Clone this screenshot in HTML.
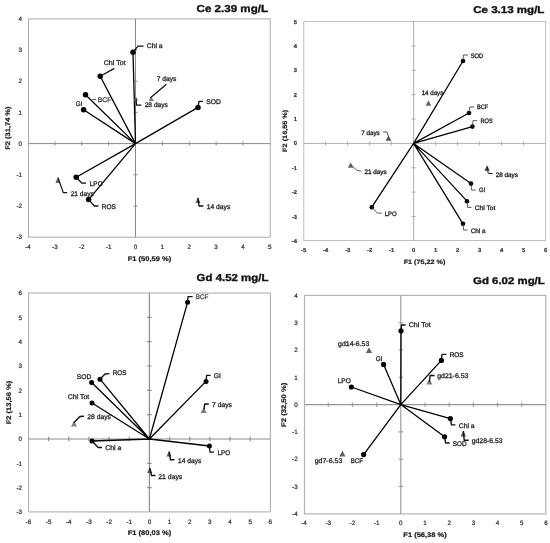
<!DOCTYPE html>
<html lang="en"><head><meta charset="utf-8"><title>PCA biplots</title>
<style>html,body{margin:0;padding:0;background:#fff}svg{display:block;font-family:"Liberation Sans",Arial,Helvetica,sans-serif;text-rendering:geometricPrecision}</style>
</head><body>
<svg width="550" height="543" viewBox="0 0 550 543">
<rect width="550" height="543" fill="#fff"/>
<g>
<rect x="28.6" y="18.9" width="241.6" height="218.3" fill="#fff" stroke="#a0a0a0" stroke-width="0.9"/>
<path d="M28.6 143.6H270.2M135.5 18.9V237.2M54.89 141.6V145.6M81.76 141.6V145.6M108.63 141.6V145.6M162.37 141.6V145.6M189.24 141.6V145.6M216.11 141.6V145.6M242.98 141.6V145.6M133.5 206H137.5M133.5 174.8H137.5M133.5 112.4H137.5M133.5 81.2H137.5M133.5 50H137.5" stroke="#858585" stroke-width="0.95" fill="none"/>
<text x="28.02" y="248.86" font-size="6.3" text-anchor="middle" fill="#2c2c2c" stroke="#2c2c2c" stroke-width="0.2">-4</text>
<text x="54.89" y="248.86" font-size="6.3" text-anchor="middle" fill="#2c2c2c" stroke="#2c2c2c" stroke-width="0.2">-3</text>
<text x="81.76" y="248.86" font-size="6.3" text-anchor="middle" fill="#2c2c2c" stroke="#2c2c2c" stroke-width="0.2">-2</text>
<text x="108.63" y="248.86" font-size="6.3" text-anchor="middle" fill="#2c2c2c" stroke="#2c2c2c" stroke-width="0.2">-1</text>
<text x="135.5" y="248.86" font-size="6.3" text-anchor="middle" fill="#2c2c2c" stroke="#2c2c2c" stroke-width="0.2">0</text>
<text x="162.37" y="248.86" font-size="6.3" text-anchor="middle" fill="#2c2c2c" stroke="#2c2c2c" stroke-width="0.2">1</text>
<text x="189.24" y="248.86" font-size="6.3" text-anchor="middle" fill="#2c2c2c" stroke="#2c2c2c" stroke-width="0.2">2</text>
<text x="216.11" y="248.86" font-size="6.3" text-anchor="middle" fill="#2c2c2c" stroke="#2c2c2c" stroke-width="0.2">3</text>
<text x="242.98" y="248.86" font-size="6.3" text-anchor="middle" fill="#2c2c2c" stroke="#2c2c2c" stroke-width="0.2">4</text>
<text x="269.85" y="248.86" font-size="6.3" text-anchor="middle" fill="#2c2c2c" stroke="#2c2c2c" stroke-width="0.2">5</text>
<text x="22" y="239.46" font-size="6.3" text-anchor="end" fill="#2c2c2c" stroke="#2c2c2c" stroke-width="0.2">-3</text>
<text x="22" y="208.26" font-size="6.3" text-anchor="end" fill="#2c2c2c" stroke="#2c2c2c" stroke-width="0.2">-2</text>
<text x="22" y="177.06" font-size="6.3" text-anchor="end" fill="#2c2c2c" stroke="#2c2c2c" stroke-width="0.2">-1</text>
<text x="22" y="145.86" font-size="6.3" text-anchor="end" fill="#2c2c2c" stroke="#2c2c2c" stroke-width="0.2">0</text>
<text x="22" y="114.66" font-size="6.3" text-anchor="end" fill="#2c2c2c" stroke="#2c2c2c" stroke-width="0.2">1</text>
<text x="22" y="83.46" font-size="6.3" text-anchor="end" fill="#2c2c2c" stroke="#2c2c2c" stroke-width="0.2">2</text>
<text x="22" y="52.26" font-size="6.3" text-anchor="end" fill="#2c2c2c" stroke="#2c2c2c" stroke-width="0.2">3</text>
<text x="22" y="21.06" font-size="6.3" text-anchor="end" fill="#2c2c2c" stroke="#2c2c2c" stroke-width="0.2">4</text>
<path d="M135.5 143.6L133 52.2M135.5 143.6L100.2 76.2M135.5 143.6L85.5 94.7M135.5 143.6L83.6 109.8M135.5 143.6L198 107.4M135.5 143.6L76.2 177.2M135.5 143.6L88.6 199.6" stroke="#000" stroke-width="1.3" fill="none"/>
<circle cx="133" cy="52.2" r="2.75" fill="#000"/>
<circle cx="100.2" cy="76.2" r="2.75" fill="#000"/>
<circle cx="85.5" cy="94.7" r="2.75" fill="#000"/>
<circle cx="83.6" cy="109.8" r="2.75" fill="#000"/>
<circle cx="198" cy="107.4" r="2.75" fill="#000"/>
<circle cx="76.2" cy="177.2" r="2.75" fill="#000"/>
<circle cx="88.6" cy="199.6" r="2.75" fill="#000"/>
<path d="M151.2 96.7L154.1 100.9H148.3Z" fill="#7a7a7a"/>
<path d="M136 96.4L138.1 100.8H133.9Z" fill="#8a8a8a"/>
<path d="M57.8 177.1L60.2 182.9H55.4Z" fill="#666"/>
<path d="M198 197.3L200.4 203.1H195.6Z" fill="#555"/>
<path d="M133 52.2L138 46.2L143.6 46.2" stroke="#111" stroke-width="1.3" fill="none" stroke-linejoin="round"/>
<path d="M100.2 76.2L114.4 68.4" stroke="#111" stroke-width="1.3" fill="none" stroke-linejoin="round"/>
<path d="M92.4 99.4L96 99.4" stroke="#333" stroke-width="0.9" fill="none" stroke-linejoin="round"/>
<path d="M166.4 84.2L150.2 98" stroke="#111" stroke-width="1.25" fill="none" stroke-linejoin="round"/>
<path d="M136 98.5L136.5 105L141.4 105" stroke="#111" stroke-width="1.25" fill="none" stroke-linejoin="round"/>
<path d="M198 107.4L199 101.4L203 101.4" stroke="#111" stroke-width="1.3" fill="none" stroke-linejoin="round"/>
<path d="M76.2 177.2L82 183.2L86 183.2" stroke="#111" stroke-width="1.3" fill="none" stroke-linejoin="round"/>
<path d="M58 177.6L63.3 192.6L67.2 192.6" stroke="#111" stroke-width="1.25" fill="none" stroke-linejoin="round"/>
<path d="M88.6 199.6L94.4 206L98.4 206" stroke="#111" stroke-width="1.3" fill="none" stroke-linejoin="round"/>
<path d="M198 197.8L199 206L203.4 206" stroke="#111" stroke-width="1.3" fill="none" stroke-linejoin="round"/>
<text x="146.7" y="48.42" font-size="6.75" fill="#222" stroke="#222" stroke-width="0.28" textLength="16" lengthAdjust="spacingAndGlyphs">Chl a</text>
<text x="103.7" y="64.82" font-size="6.75" fill="#222" stroke="#222" stroke-width="0.28" textLength="22" lengthAdjust="spacingAndGlyphs">Chl Tot</text>
<text x="97.7" y="101.98" font-size="6.65" fill="#444" stroke="#444" stroke-width="0.28" textLength="13.8" lengthAdjust="spacingAndGlyphs">BCF</text>
<text x="75.7" y="106.02" font-size="6.75" fill="#222" stroke="#222" stroke-width="0.28" textLength="6.6" lengthAdjust="spacingAndGlyphs">GI</text>
<text x="156.7" y="80.82" font-size="6.75" fill="#222" stroke="#222" stroke-width="0.28" textLength="19.6" lengthAdjust="spacingAndGlyphs">7 days</text>
<text x="144.7" y="107.22" font-size="6.75" fill="#222" stroke="#222" stroke-width="0.28" textLength="23.2" lengthAdjust="spacingAndGlyphs">28 days</text>
<text x="206.3" y="104.02" font-size="6.75" fill="#222" stroke="#222" stroke-width="0.28" textLength="14.6" lengthAdjust="spacingAndGlyphs">SOD</text>
<text x="89.7" y="186.02" font-size="6.75" fill="#222" stroke="#222" stroke-width="0.28" textLength="13" lengthAdjust="spacingAndGlyphs">LPO</text>
<text x="70.7" y="195.62" font-size="6.75" fill="#222" stroke="#222" stroke-width="0.28" textLength="23.1" lengthAdjust="spacingAndGlyphs">21 days</text>
<text x="101.7" y="208.72" font-size="6.75" fill="#222" stroke="#222" stroke-width="0.28" textLength="14.2" lengthAdjust="spacingAndGlyphs">ROS</text>
<text x="206.7" y="208.82" font-size="6.75" fill="#222" stroke="#222" stroke-width="0.28" textLength="23.6" lengthAdjust="spacingAndGlyphs">14 days</text>
<text x="196.6" y="11.6" font-size="10.2" font-weight="bold" fill="#111" stroke="#111" stroke-width="0.35" textLength="71.4" lengthAdjust="spacingAndGlyphs">Ce 2.39 mg/L</text>
<text x="127.7" y="260.8" font-size="6.7" font-weight="bold" fill="#1a1a1a" stroke="#1a1a1a" stroke-width="0.2" textLength="43.6" lengthAdjust="spacingAndGlyphs">F1 (50,59 %)</text>
<text font-size="6.7" font-weight="bold" fill="#1a1a1a" stroke="#1a1a1a" stroke-width="0.2" textLength="43.2" lengthAdjust="spacingAndGlyphs" transform="translate(10.4 149.7) rotate(-90)">F2 (31,74 %)</text>
</g>
<g>
<rect x="303.8" y="21.6" width="241.9" height="218.9" fill="#fff" stroke="#b0b0b0" stroke-width="0.8"/>
<path d="M303.8 143.4H545.7M413.6 21.6V240.5M325.6 141.4V145.4M347.6 141.4V145.4M369.6 141.4V145.4M391.6 141.4V145.4M435.6 141.4V145.4M457.6 141.4V145.4M479.6 141.4V145.4M501.6 141.4V145.4M523.6 141.4V145.4M411.6 216.48H415.6M411.6 192.12H415.6M411.6 167.76H415.6M411.6 119.04H415.6M411.6 94.68H415.6M411.6 70.32H415.6M411.6 45.96H415.6" stroke="#9a9a9a" stroke-width="0.8" fill="none"/>
<text x="303.6" y="251.88" font-size="5.8" text-anchor="middle" font-weight="bold" fill="#333" stroke="#333" stroke-width="0.2">-5</text>
<text x="325.6" y="251.88" font-size="5.8" text-anchor="middle" font-weight="bold" fill="#333" stroke="#333" stroke-width="0.2">-4</text>
<text x="347.6" y="251.88" font-size="5.8" text-anchor="middle" font-weight="bold" fill="#333" stroke="#333" stroke-width="0.2">-3</text>
<text x="369.6" y="251.88" font-size="5.8" text-anchor="middle" font-weight="bold" fill="#333" stroke="#333" stroke-width="0.2">-2</text>
<text x="391.6" y="251.88" font-size="5.8" text-anchor="middle" font-weight="bold" fill="#333" stroke="#333" stroke-width="0.2">-1</text>
<text x="413.6" y="251.88" font-size="5.8" text-anchor="middle" font-weight="bold" fill="#333" stroke="#333" stroke-width="0.2">0</text>
<text x="435.6" y="251.88" font-size="5.8" text-anchor="middle" font-weight="bold" fill="#333" stroke="#333" stroke-width="0.2">1</text>
<text x="457.6" y="251.88" font-size="5.8" text-anchor="middle" font-weight="bold" fill="#333" stroke="#333" stroke-width="0.2">2</text>
<text x="479.6" y="251.88" font-size="5.8" text-anchor="middle" font-weight="bold" fill="#333" stroke="#333" stroke-width="0.2">3</text>
<text x="501.6" y="251.88" font-size="5.8" text-anchor="middle" font-weight="bold" fill="#333" stroke="#333" stroke-width="0.2">4</text>
<text x="523.6" y="251.88" font-size="5.8" text-anchor="middle" font-weight="bold" fill="#333" stroke="#333" stroke-width="0.2">5</text>
<text x="545.6" y="251.88" font-size="5.8" text-anchor="middle" font-weight="bold" fill="#333" stroke="#333" stroke-width="0.2">6</text>
<text x="296.9" y="242.92" font-size="5.8" text-anchor="end" font-weight="bold" fill="#333" stroke="#333" stroke-width="0.2">-4</text>
<text x="296.9" y="218.56" font-size="5.8" text-anchor="end" font-weight="bold" fill="#333" stroke="#333" stroke-width="0.2">-3</text>
<text x="296.9" y="194.2" font-size="5.8" text-anchor="end" font-weight="bold" fill="#333" stroke="#333" stroke-width="0.2">-2</text>
<text x="296.9" y="169.84" font-size="5.8" text-anchor="end" font-weight="bold" fill="#333" stroke="#333" stroke-width="0.2">-1</text>
<text x="296.9" y="145.48" font-size="5.8" text-anchor="end" font-weight="bold" fill="#333" stroke="#333" stroke-width="0.2">0</text>
<text x="296.9" y="121.12" font-size="5.8" text-anchor="end" font-weight="bold" fill="#333" stroke="#333" stroke-width="0.2">1</text>
<text x="296.9" y="96.76" font-size="5.8" text-anchor="end" font-weight="bold" fill="#333" stroke="#333" stroke-width="0.2">2</text>
<text x="296.9" y="72.4" font-size="5.8" text-anchor="end" font-weight="bold" fill="#333" stroke="#333" stroke-width="0.2">3</text>
<text x="296.9" y="48.04" font-size="5.8" text-anchor="end" font-weight="bold" fill="#333" stroke="#333" stroke-width="0.2">4</text>
<text x="296.9" y="23.68" font-size="5.8" text-anchor="end" font-weight="bold" fill="#333" stroke="#333" stroke-width="0.2">5</text>
<path d="M413.6 143.4L463 61M413.6 143.4L469 113M413.6 143.4L472.4 126.6M413.6 143.4L471 183.6M413.6 143.4L467 201.2M413.6 143.4L463 223.8M413.6 143.4L371.8 207.2" stroke="#000" stroke-width="1.25" fill="none"/>
<circle cx="463" cy="61" r="2.3" fill="#000"/>
<circle cx="469" cy="113" r="2.3" fill="#000"/>
<circle cx="472.4" cy="126.6" r="2.3" fill="#000"/>
<circle cx="471" cy="183.6" r="2.3" fill="#000"/>
<circle cx="467" cy="201.2" r="2.3" fill="#000"/>
<circle cx="463" cy="223.8" r="2.3" fill="#000"/>
<circle cx="371.8" cy="207.2" r="2.3" fill="#000"/>
<path d="M428.4 100.3L431.2 105.7H425.6Z" fill="#666"/>
<path d="M388.5 135.2L391.3 140.8H385.7Z" fill="#555"/>
<path d="M350.6 162.3L353.4 167.7H347.8Z" fill="#666"/>
<path d="M487.1 165.3L489.75 170.7H484.45Z" fill="#444"/>
<path d="M463 61L463.4 55L468 55" stroke="#333" stroke-width="0.8" fill="none" stroke-linejoin="round"/>
<path d="M469 113L469.6 107L474 107" stroke="#333" stroke-width="0.8" fill="none" stroke-linejoin="round"/>
<path d="M472.4 126.6L473 120.6L477 120.6" stroke="#333" stroke-width="0.8" fill="none" stroke-linejoin="round"/>
<path d="M471 183.6L471.6 190L475.6 190" stroke="#333" stroke-width="0.8" fill="none" stroke-linejoin="round"/>
<path d="M467 201.2L467.6 207.4L471.6 207.4" stroke="#333" stroke-width="0.8" fill="none" stroke-linejoin="round"/>
<path d="M463 223.8L463.6 230L467.6 230" stroke="#333" stroke-width="0.8" fill="none" stroke-linejoin="round"/>
<path d="M371.8 207.2L377.2 213L381.8 213.2" stroke="#333" stroke-width="0.8" fill="none" stroke-linejoin="round"/>
<path d="M383 132L387 132L388.4 136.5" stroke="#333" stroke-width="0.8" fill="none" stroke-linejoin="round"/>
<path d="M351 165L357 170.4L361.2 171" stroke="#333" stroke-width="0.8" fill="none" stroke-linejoin="round"/>
<path d="M487.2 166.5L488.2 173.4L492.7 173.6" stroke="#222" stroke-width="1.0" fill="none" stroke-linejoin="round"/>
<text x="470.7" y="57.89" font-size="6.4" fill="#222" stroke="#222" stroke-width="0.3" textLength="12.6" lengthAdjust="spacingAndGlyphs">SOD</text>
<text x="477.1" y="109.49" font-size="6.4" fill="#222" stroke="#222" stroke-width="0.3" textLength="11.2" lengthAdjust="spacingAndGlyphs">BCF</text>
<text x="480.5" y="123.09" font-size="6.4" fill="#222" stroke="#222" stroke-width="0.3" textLength="12.2" lengthAdjust="spacingAndGlyphs">ROS</text>
<text x="479.1" y="192.49" font-size="6.4" fill="#222" stroke="#222" stroke-width="0.3" textLength="6.2" lengthAdjust="spacingAndGlyphs">GI</text>
<text x="474.7" y="210.09" font-size="6.4" fill="#222" stroke="#222" stroke-width="0.3" textLength="20.6" lengthAdjust="spacingAndGlyphs">Chl Tot</text>
<text x="470.7" y="232.69" font-size="6.4" fill="#222" stroke="#222" stroke-width="0.3" textLength="14.8" lengthAdjust="spacingAndGlyphs">Chl a</text>
<text x="384.7" y="216.29" font-size="6.4" fill="#222" stroke="#222" stroke-width="0.3" textLength="12" lengthAdjust="spacingAndGlyphs">LPO</text>
<text x="421.7" y="94.89" font-size="6.4" fill="#222" stroke="#222" stroke-width="0.3" textLength="21.6" lengthAdjust="spacingAndGlyphs">14 days</text>
<text x="361.2" y="134.79" font-size="6.4" fill="#222" stroke="#222" stroke-width="0.3" textLength="18.5" lengthAdjust="spacingAndGlyphs">7 days</text>
<text x="364.5" y="173.79" font-size="6.4" fill="#222" stroke="#222" stroke-width="0.3" textLength="22.2" lengthAdjust="spacingAndGlyphs">21 days</text>
<text x="495.7" y="176.59" font-size="6.4" fill="#222" stroke="#222" stroke-width="0.3" textLength="22.2" lengthAdjust="spacingAndGlyphs">28 days</text>
<text x="473.2" y="13" font-size="9.9" font-weight="bold" fill="#111" stroke="#111" stroke-width="0.35" textLength="71.2" lengthAdjust="spacingAndGlyphs">Ce 3.13 mg/L</text>
<text x="403.7" y="264.26" font-size="6.3" font-weight="bold" fill="#1a1a1a" stroke="#1a1a1a" stroke-width="0.2" textLength="41.6" lengthAdjust="spacingAndGlyphs">F1 (75,22 %)</text>
<text font-size="6.3" font-weight="bold" fill="#1a1a1a" stroke="#1a1a1a" stroke-width="0.2" textLength="42.2" lengthAdjust="spacingAndGlyphs" transform="translate(286.66 151.9) rotate(-90)">F2 (16,55 %)</text>
</g>
<g>
<rect x="28.6" y="293" width="241.7" height="218.9" fill="#fff" stroke="#a8a8a8" stroke-width="1.0"/>
<path d="M28.6 439H270.3M149.4 293V511.9M48.65 436.8V441.2M68.8 436.8V441.2M88.95 436.8V441.2M109.1 436.8V441.2M129.25 436.8V441.2M169.55 436.8V441.2M189.7 436.8V441.2M209.85 436.8V441.2M230 436.8V441.2M250.15 436.8V441.2M147.2 487.66H151.6M147.2 463.33H151.6M147.2 414.67H151.6M147.2 390.34H151.6M147.2 366.01H151.6M147.2 341.68H151.6M147.2 317.35H151.6" stroke="#8c8c8c" stroke-width="1.15" fill="none"/>
<text x="28.5" y="523.56" font-size="6.3" text-anchor="middle" fill="#2c2c2c" stroke="#2c2c2c" stroke-width="0.2">-6</text>
<text x="48.65" y="523.56" font-size="6.3" text-anchor="middle" fill="#2c2c2c" stroke="#2c2c2c" stroke-width="0.2">-5</text>
<text x="68.8" y="523.56" font-size="6.3" text-anchor="middle" fill="#2c2c2c" stroke="#2c2c2c" stroke-width="0.2">-4</text>
<text x="88.95" y="523.56" font-size="6.3" text-anchor="middle" fill="#2c2c2c" stroke="#2c2c2c" stroke-width="0.2">-3</text>
<text x="109.1" y="523.56" font-size="6.3" text-anchor="middle" fill="#2c2c2c" stroke="#2c2c2c" stroke-width="0.2">-2</text>
<text x="129.25" y="523.56" font-size="6.3" text-anchor="middle" fill="#2c2c2c" stroke="#2c2c2c" stroke-width="0.2">-1</text>
<text x="149.4" y="523.56" font-size="6.3" text-anchor="middle" fill="#2c2c2c" stroke="#2c2c2c" stroke-width="0.2">0</text>
<text x="169.55" y="523.56" font-size="6.3" text-anchor="middle" fill="#2c2c2c" stroke="#2c2c2c" stroke-width="0.2">1</text>
<text x="189.7" y="523.56" font-size="6.3" text-anchor="middle" fill="#2c2c2c" stroke="#2c2c2c" stroke-width="0.2">2</text>
<text x="209.85" y="523.56" font-size="6.3" text-anchor="middle" fill="#2c2c2c" stroke="#2c2c2c" stroke-width="0.2">3</text>
<text x="230" y="523.56" font-size="6.3" text-anchor="middle" fill="#2c2c2c" stroke="#2c2c2c" stroke-width="0.2">4</text>
<text x="250.15" y="523.56" font-size="6.3" text-anchor="middle" fill="#2c2c2c" stroke="#2c2c2c" stroke-width="0.2">5</text>
<text x="270.3" y="523.56" font-size="6.3" text-anchor="middle" fill="#2c2c2c" stroke="#2c2c2c" stroke-width="0.2">6</text>
<text x="22" y="514.25" font-size="6.3" text-anchor="end" fill="#2c2c2c" stroke="#2c2c2c" stroke-width="0.2">-3</text>
<text x="22" y="489.92" font-size="6.3" text-anchor="end" fill="#2c2c2c" stroke="#2c2c2c" stroke-width="0.2">-2</text>
<text x="22" y="465.59" font-size="6.3" text-anchor="end" fill="#2c2c2c" stroke="#2c2c2c" stroke-width="0.2">-1</text>
<text x="22" y="441.26" font-size="6.3" text-anchor="end" fill="#2c2c2c" stroke="#2c2c2c" stroke-width="0.2">0</text>
<text x="22" y="416.93" font-size="6.3" text-anchor="end" fill="#2c2c2c" stroke="#2c2c2c" stroke-width="0.2">1</text>
<text x="22" y="392.6" font-size="6.3" text-anchor="end" fill="#2c2c2c" stroke="#2c2c2c" stroke-width="0.2">2</text>
<text x="22" y="368.27" font-size="6.3" text-anchor="end" fill="#2c2c2c" stroke="#2c2c2c" stroke-width="0.2">3</text>
<text x="22" y="343.94" font-size="6.3" text-anchor="end" fill="#2c2c2c" stroke="#2c2c2c" stroke-width="0.2">4</text>
<text x="22" y="319.61" font-size="6.3" text-anchor="end" fill="#2c2c2c" stroke="#2c2c2c" stroke-width="0.2">5</text>
<text x="22" y="295.28" font-size="6.3" text-anchor="end" fill="#2c2c2c" stroke="#2c2c2c" stroke-width="0.2">6</text>
<path d="M149.4 439L187.6 302.2M149.4 439L206 381.4M149.4 439L209.4 446M149.4 439L91.6 382.5M149.4 439L100 379.2M149.4 439L92 403M149.4 439L92 441" stroke="#000" stroke-width="1.3" fill="none"/>
<circle cx="187.6" cy="302.2" r="2.5" fill="#000"/>
<circle cx="206" cy="381.4" r="2.5" fill="#000"/>
<circle cx="209.4" cy="446" r="2.5" fill="#000"/>
<circle cx="91.6" cy="382.5" r="2.5" fill="#000"/>
<circle cx="100" cy="379.2" r="2.5" fill="#000"/>
<circle cx="92" cy="403" r="2.5" fill="#000"/>
<circle cx="92" cy="441" r="2.5" fill="#000"/>
<path d="M203.7 407.4L206.8 413H200.6Z" fill="#7c7c7c"/>
<path d="M74 421.1L77.1 426.5H70.9Z" fill="#848484"/>
<path d="M169 451L171.5 456.6H166.5Z" fill="#555"/>
<path d="M149.7 467.4L152.2 473H147.2Z" fill="#555"/>
<path d="M187.6 302.2L188 296.6L192.6 296.6" stroke="#111" stroke-width="1.3" fill="none" stroke-linejoin="round"/>
<path d="M206 381.4L206.6 375.4L210.6 375.4" stroke="#111" stroke-width="1.3" fill="none" stroke-linejoin="round"/>
<path d="M204 409.5L204.7 404L208.8 404" stroke="#111" stroke-width="1.45" fill="none" stroke-linejoin="round"/>
<path d="M209.4 446L210 452.2L214 452.2" stroke="#111" stroke-width="1.3" fill="none" stroke-linejoin="round"/>
<path d="M100 379.2L105 374L109.4 373.6" stroke="#111" stroke-width="1.3" fill="none" stroke-linejoin="round"/>
<path d="M73.8 422.8L79.9 416.5L83.9 416.2" stroke="#111" stroke-width="1.4" fill="none" stroke-linejoin="round"/>
<path d="M92 441L98.2 447.5L102 447.5" stroke="#111" stroke-width="1.3" fill="none" stroke-linejoin="round"/>
<path d="M149.8 468L151.5 475.5L155.5 475.5" stroke="#111" stroke-width="1.4" fill="none" stroke-linejoin="round"/>
<path d="M169.2 451.6L170.5 459.8L174.4 459.8" stroke="#111" stroke-width="1.4" fill="none" stroke-linejoin="round"/>
<text x="195.7" y="299.18" font-size="6.65" fill="#444" stroke="#444" stroke-width="0.28" textLength="12.6" lengthAdjust="spacingAndGlyphs">BCF</text>
<text x="213.7" y="377.82" font-size="6.75" fill="#222" stroke="#222" stroke-width="0.28" textLength="7.2" lengthAdjust="spacingAndGlyphs">GI</text>
<text x="212.1" y="406.82" font-size="6.75" fill="#222" stroke="#222" stroke-width="0.28" textLength="19.8" lengthAdjust="spacingAndGlyphs">7 days</text>
<text x="217.5" y="455.02" font-size="6.75" fill="#222" stroke="#222" stroke-width="0.28" textLength="12.8" lengthAdjust="spacingAndGlyphs">LPO</text>
<text x="76.7" y="378.82" font-size="6.75" fill="#222" stroke="#222" stroke-width="0.28" textLength="14.6" lengthAdjust="spacingAndGlyphs">SOD</text>
<text x="112.7" y="375.42" font-size="6.75" fill="#222" stroke="#222" stroke-width="0.28" textLength="14" lengthAdjust="spacingAndGlyphs">ROS</text>
<text x="67.7" y="399.42" font-size="6.75" fill="#222" stroke="#222" stroke-width="0.28" textLength="21.6" lengthAdjust="spacingAndGlyphs">Chl Tot</text>
<text x="87.3" y="419.02" font-size="6.75" fill="#222" stroke="#222" stroke-width="0.28" textLength="23.6" lengthAdjust="spacingAndGlyphs">28 days</text>
<text x="105.3" y="450.02" font-size="6.75" fill="#222" stroke="#222" stroke-width="0.28" textLength="16" lengthAdjust="spacingAndGlyphs">Chl a</text>
<text x="158.3" y="478.82" font-size="6.75" fill="#222" stroke="#222" stroke-width="0.28" textLength="24" lengthAdjust="spacingAndGlyphs">21 days</text>
<text x="178.1" y="462.82" font-size="6.75" fill="#222" stroke="#222" stroke-width="0.28" textLength="23.2" lengthAdjust="spacingAndGlyphs">14 days</text>
<text x="196.6" y="281.3" font-size="10.1" font-weight="bold" fill="#111" stroke="#111" stroke-width="0.35" textLength="71.8" lengthAdjust="spacingAndGlyphs">Gd 4.52 mg/L</text>
<text x="127.7" y="535.4" font-size="6.7" font-weight="bold" fill="#1a1a1a" stroke="#1a1a1a" stroke-width="0.2" textLength="43.6" lengthAdjust="spacingAndGlyphs">F1 (80,03 %)</text>
<text font-size="6.7" font-weight="bold" fill="#1a1a1a" stroke="#1a1a1a" stroke-width="0.2" textLength="43.6" lengthAdjust="spacingAndGlyphs" transform="translate(11 424.3) rotate(-90)">F2 (13,56 %)</text>
</g>
<g>
<rect x="304.5" y="295.4" width="241.3" height="218.5" fill="#fff" stroke="#b4b4b4" stroke-width="1.2"/>
<path d="M304.5 404.6H545.8M400.8 295.4V513.9M328.2 402.4V406.8M352.4 402.4V406.8M376.6 402.4V406.8M425 402.4V406.8M449.2 402.4V406.8M473.4 402.4V406.8M497.6 402.4V406.8M521.8 402.4V406.8M398.6 486.5H403M398.6 459.2H403M398.6 431.9H403M398.6 377.3H403M398.6 350H403M398.6 322.7H403" stroke="#969696" stroke-width="1.1" fill="none"/>
<text x="304" y="525.26" font-size="6.3" text-anchor="middle" fill="#2c2c2c" stroke="#2c2c2c" stroke-width="0.2">-4</text>
<text x="328.2" y="525.26" font-size="6.3" text-anchor="middle" fill="#2c2c2c" stroke="#2c2c2c" stroke-width="0.2">-3</text>
<text x="352.4" y="525.26" font-size="6.3" text-anchor="middle" fill="#2c2c2c" stroke="#2c2c2c" stroke-width="0.2">-2</text>
<text x="376.6" y="525.26" font-size="6.3" text-anchor="middle" fill="#2c2c2c" stroke="#2c2c2c" stroke-width="0.2">-1</text>
<text x="400.8" y="525.26" font-size="6.3" text-anchor="middle" fill="#2c2c2c" stroke="#2c2c2c" stroke-width="0.2">0</text>
<text x="425" y="525.26" font-size="6.3" text-anchor="middle" fill="#2c2c2c" stroke="#2c2c2c" stroke-width="0.2">1</text>
<text x="449.2" y="525.26" font-size="6.3" text-anchor="middle" fill="#2c2c2c" stroke="#2c2c2c" stroke-width="0.2">2</text>
<text x="473.4" y="525.26" font-size="6.3" text-anchor="middle" fill="#2c2c2c" stroke="#2c2c2c" stroke-width="0.2">3</text>
<text x="497.6" y="525.26" font-size="6.3" text-anchor="middle" fill="#2c2c2c" stroke="#2c2c2c" stroke-width="0.2">4</text>
<text x="521.8" y="525.26" font-size="6.3" text-anchor="middle" fill="#2c2c2c" stroke="#2c2c2c" stroke-width="0.2">5</text>
<text x="546" y="525.26" font-size="6.3" text-anchor="middle" fill="#2c2c2c" stroke="#2c2c2c" stroke-width="0.2">6</text>
<text x="297.7" y="516.06" font-size="6.3" text-anchor="end" fill="#2c2c2c" stroke="#2c2c2c" stroke-width="0.2">-4</text>
<text x="297.7" y="488.76" font-size="6.3" text-anchor="end" fill="#2c2c2c" stroke="#2c2c2c" stroke-width="0.2">-3</text>
<text x="297.7" y="461.46" font-size="6.3" text-anchor="end" fill="#2c2c2c" stroke="#2c2c2c" stroke-width="0.2">-2</text>
<text x="297.7" y="434.16" font-size="6.3" text-anchor="end" fill="#2c2c2c" stroke="#2c2c2c" stroke-width="0.2">-1</text>
<text x="297.7" y="406.86" font-size="6.3" text-anchor="end" fill="#2c2c2c" stroke="#2c2c2c" stroke-width="0.2">0</text>
<text x="297.7" y="379.56" font-size="6.3" text-anchor="end" fill="#2c2c2c" stroke="#2c2c2c" stroke-width="0.2">1</text>
<text x="297.7" y="352.26" font-size="6.3" text-anchor="end" fill="#2c2c2c" stroke="#2c2c2c" stroke-width="0.2">2</text>
<text x="297.7" y="324.96" font-size="6.3" text-anchor="end" fill="#2c2c2c" stroke="#2c2c2c" stroke-width="0.2">3</text>
<text x="297.7" y="297.66" font-size="6.3" text-anchor="end" fill="#2c2c2c" stroke="#2c2c2c" stroke-width="0.2">4</text>
<path d="M400.8 404.6L401 330.8M400.8 404.6L383.6 364.4M400.8 404.6L441.4 360.4M400.8 404.6L351.4 387M400.8 404.6L450.4 418.6M400.8 404.6L444.6 436.8M400.8 404.6L363.6 454.6" stroke="#000" stroke-width="1.3" fill="none"/>
<circle cx="401" cy="330.8" r="2.6" fill="#000"/>
<circle cx="383.6" cy="364.4" r="2.6" fill="#000"/>
<circle cx="441.4" cy="360.4" r="2.6" fill="#000"/>
<circle cx="351.4" cy="387" r="2.6" fill="#000"/>
<circle cx="450.4" cy="418.6" r="2.6" fill="#000"/>
<circle cx="444.6" cy="436.8" r="2.6" fill="#000"/>
<circle cx="363.6" cy="454.6" r="2.6" fill="#000"/>
<path d="M369 347.3L372.1 353.1H365.9Z" fill="#626262"/>
<path d="M429.4 379.2L432.5 384.6H426.3Z" fill="#787878"/>
<path d="M342.4 450.7L345.5 456.5H339.3Z" fill="#626262"/>
<path d="M463.3 430.6L465.9 436.4H460.7Z" fill="#555"/>
<path d="M401 330.8L401.4 325L405.6 325" stroke="#111" stroke-width="1.3" fill="none" stroke-linejoin="round"/>
<path d="M441.4 360.4L442 354.4L446.4 354.4" stroke="#111" stroke-width="1.3" fill="none" stroke-linejoin="round"/>
<path d="M429.4 382L430.1 375.5L434.6 375.5" stroke="#111" stroke-width="1.4" fill="none" stroke-linejoin="round"/>
<path d="M450.4 418.6L451.5 424.9L455.4 424.9" stroke="#111" stroke-width="1.4" fill="none" stroke-linejoin="round"/>
<path d="M444.6 436.8L445.6 443L449.6 443" stroke="#111" stroke-width="1.4" fill="none" stroke-linejoin="round"/>
<path d="M463.4 431L464.2 440.3L468.6 440.3" stroke="#111" stroke-width="1.4" fill="none" stroke-linejoin="round"/>
<text x="408.7" y="327.42" font-size="6.75" fill="#222" stroke="#222" stroke-width="0.28" textLength="22" lengthAdjust="spacingAndGlyphs">Chl Tot</text>
<text x="375.7" y="360.82" font-size="6.75" fill="#222" stroke="#222" stroke-width="0.28" textLength="6.8" lengthAdjust="spacingAndGlyphs">GI</text>
<text x="449.7" y="357.02" font-size="6.75" fill="#222" stroke="#222" stroke-width="0.28" textLength="14" lengthAdjust="spacingAndGlyphs">ROS</text>
<text x="338.1" y="346.02" font-size="6.75" fill="#222" stroke="#222" stroke-width="0.28" textLength="31.2" lengthAdjust="spacingAndGlyphs">gd14-6.53</text>
<text x="437.3" y="378.02" font-size="6.75" fill="#222" stroke="#222" stroke-width="0.28" textLength="31" lengthAdjust="spacingAndGlyphs">gd21-6.53</text>
<text x="337.7" y="383.42" font-size="6.75" fill="#222" stroke="#222" stroke-width="0.28" textLength="13.2" lengthAdjust="spacingAndGlyphs">LPO</text>
<text x="458.7" y="428.02" font-size="6.75" fill="#222" stroke="#222" stroke-width="0.28" textLength="16" lengthAdjust="spacingAndGlyphs">Chl a</text>
<text x="452.7" y="445.82" font-size="6.75" fill="#222" stroke="#222" stroke-width="0.28" textLength="13.8" lengthAdjust="spacingAndGlyphs">SOD</text>
<text x="471.7" y="443.02" font-size="6.75" fill="#222" stroke="#222" stroke-width="0.28" textLength="31" lengthAdjust="spacingAndGlyphs">gd28-6.53</text>
<text x="314.7" y="463.02" font-size="6.75" fill="#222" stroke="#222" stroke-width="0.28" textLength="27.6" lengthAdjust="spacingAndGlyphs">gd7-6.53</text>
<text x="350.7" y="463.42" font-size="6.75" fill="#222" stroke="#222" stroke-width="0.28" textLength="12.2" lengthAdjust="spacingAndGlyphs">BCF</text>
<text x="473" y="284.4" font-size="9.8" font-weight="bold" fill="#111" stroke="#111" stroke-width="0.35" textLength="71.8" lengthAdjust="spacingAndGlyphs">Gd 6.02 mg/L</text>
<text x="403.3" y="537.4" font-size="6.7" font-weight="bold" fill="#1a1a1a" stroke="#1a1a1a" stroke-width="0.2" textLength="43.4" lengthAdjust="spacingAndGlyphs">F1 (56,38 %)</text>
<text font-size="6.7" font-weight="bold" fill="#1a1a1a" stroke="#1a1a1a" stroke-width="0.2" textLength="44.2" lengthAdjust="spacingAndGlyphs" transform="translate(286.4 426.9) rotate(-90)">F2 (32,50 %)</text>
</g>
</svg></body></html>
